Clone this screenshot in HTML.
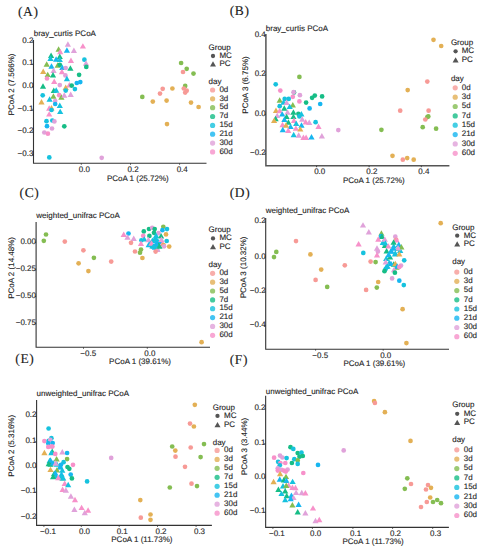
<!DOCTYPE html><html><head><meta charset="utf-8"><style>html,body{margin:0;padding:0;background:#fff;width:481px;height:550px;overflow:hidden}svg{display:block}text{font-family:"Liberation Sans",sans-serif;font-size:8px;fill:#1e1e1e;stroke:#1e1e1e;stroke-width:0.12px;text-rendering:geometricPrecision}.s{font-family:"Liberation Serif",serif;font-size:13.5px;fill:#222;letter-spacing:0.6px}</style></head><body>
<svg width="481" height="550" viewBox="0 0 481 550">
<rect width="481" height="550" fill="#fff"/>
<text class="s" x="18" y="15.6">(A)</text>
<text x="33.7" y="36">bray_curtis PCoA</text>
<polygon points="67.90,41.35 64.80,46.78 71.00,46.78" fill="#e0a2da"/>
<polygon points="82.90,43.15 79.80,48.58 86.00,48.58" fill="#f791ca"/>
<polygon points="58.60,46.35 55.50,51.78 61.70,51.78" fill="#84bd52"/>
<polygon points="60.20,48.85 57.10,54.28 63.30,54.28" fill="#f791ca"/>
<polygon points="66.90,47.35 63.80,52.78 70.00,52.78" fill="#16b6f0"/>
<polygon points="73.90,47.55 70.80,52.98 77.00,52.98" fill="#e0a2da"/>
<polygon points="51.10,52.55 48.00,57.98 54.20,57.98" fill="#16bd86"/>
<polygon points="50.50,55.45 47.40,60.88 53.60,60.88" fill="#16c2de"/>
<polygon points="59.80,53.55 56.70,58.98 62.90,58.98" fill="#16bd86"/>
<polygon points="56.10,56.25 53.00,61.68 59.20,61.68" fill="#16b6f0"/>
<polygon points="59.80,56.65 56.70,62.08 62.90,62.08" fill="#16c2de"/>
<polygon points="71.00,57.55 67.90,62.98 74.10,62.98" fill="#f791ca"/>
<circle cx="84.4" cy="59.7" r="2.35" fill="#16c2de"/>
<polygon points="86.00,60.35 82.90,65.78 89.10,65.78" fill="#e0a2da"/>
<circle cx="86.3" cy="66.9" r="2.35" fill="#16bd86"/>
<polygon points="46.70,61.25 43.60,66.68 49.80,66.68" fill="#84bd52"/>
<polygon points="51.50,63.25 48.40,68.68 54.60,68.68" fill="#16b6f0"/>
<polygon points="57.70,62.25 54.60,67.68 60.80,67.68" fill="#84bd52"/>
<circle cx="59.8" cy="64.8" r="2.35" fill="#16bd86"/>
<polygon points="62.30,64.55 59.20,69.98 65.40,69.98" fill="#16b6f0"/>
<circle cx="65.7" cy="68.0" r="2.35" fill="#e0a2da"/>
<polygon points="70.40,65.35 67.30,70.78 73.50,70.78" fill="#16bd86"/>
<polygon points="43.20,68.55 40.10,73.98 46.30,73.98" fill="#e3b055"/>
<polygon points="53.60,67.55 50.50,72.98 56.70,72.98" fill="#e0a2da"/>
<polygon points="61.90,68.75 58.80,74.18 65.00,74.18" fill="#f791ca"/>
<polygon points="47.70,71.65 44.60,77.08 50.80,77.08" fill="#84bd52"/>
<polygon points="53.00,72.05 49.90,77.48 56.10,77.48" fill="#16bd86"/>
<circle cx="47.0" cy="78.5" r="2.35" fill="#f791ca"/>
<circle cx="79.1" cy="74.8" r="2.35" fill="#16bd86"/>
<circle cx="65.4" cy="75.4" r="2.35" fill="#e0a2da"/>
<polygon points="66.90,75.75 63.80,81.18 70.00,81.18" fill="#16c2de"/>
<polygon points="54.20,78.45 51.10,83.88 57.30,83.88" fill="#f791ca"/>
<circle cx="80.3" cy="82.1" r="2.35" fill="#16b6f0"/>
<circle cx="76.8" cy="83.0" r="2.35" fill="#16b6f0"/>
<circle cx="59.8" cy="85.1" r="2.35" fill="#e0a2da"/>
<polygon points="69.40,81.95 66.30,87.38 72.50,87.38" fill="#f791ca"/>
<circle cx="71.7" cy="85.6" r="2.35" fill="#16bd86"/>
<polygon points="43.00,83.25 39.90,88.68 46.10,88.68" fill="#16bd86"/>
<circle cx="74.9" cy="89.1" r="2.35" fill="#16c2de"/>
<polygon points="53.80,87.55 50.70,92.98 56.90,92.98" fill="#16bd86"/>
<polygon points="56.20,87.25 53.10,92.68 59.30,92.68" fill="#16c2de"/>
<polygon points="65.70,84.45 62.60,89.88 68.80,89.88" fill="#e3b055"/>
<circle cx="65.7" cy="90.6" r="2.35" fill="#16c2de"/>
<circle cx="42.7" cy="95.3" r="2.35" fill="#16c2de"/>
<polygon points="70.70,91.55 67.60,96.98 73.80,96.98" fill="#e0a2da"/>
<polygon points="53.40,93.35 50.30,98.78 56.50,98.78" fill="#84bd52"/>
<circle cx="59.2" cy="95.2" r="2.35" fill="#f791ca"/>
<polygon points="61.40,94.35 58.30,99.78 64.50,99.78" fill="#84bd52"/>
<polygon points="64.30,92.35 61.20,97.78 67.40,97.78" fill="#e0a2da"/>
<polygon points="41.50,99.05 38.40,104.48 44.60,104.48" fill="#e3b055"/>
<polygon points="49.60,96.25 46.50,101.68 52.70,101.68" fill="#16c2de"/>
<circle cx="55.2" cy="101.0" r="2.35" fill="#e0a2da"/>
<circle cx="55.2" cy="104.0" r="2.35" fill="#16b6f0"/>
<polygon points="59.80,102.45 56.70,107.88 62.90,107.88" fill="#16c2de"/>
<polygon points="51.50,104.95 48.40,110.38 54.60,110.38" fill="#e3b055"/>
<polygon points="49.20,105.35 46.10,110.78 52.30,110.78" fill="#f791ca"/>
<circle cx="51.5" cy="110.0" r="2.35" fill="#16c2de"/>
<polygon points="60.20,108.65 57.10,114.08 63.30,114.08" fill="#16c2de"/>
<polygon points="49.20,111.15 46.10,116.58 52.30,116.58" fill="#f791ca"/>
<circle cx="46.5" cy="121.2" r="2.35" fill="#16c2de"/>
<circle cx="52.3" cy="120.5" r="2.35" fill="#16c2de"/>
<circle cx="54.4" cy="121.4" r="2.35" fill="#e0a2da"/>
<circle cx="47.0" cy="126.2" r="2.35" fill="#16b6f0"/>
<circle cx="64.3" cy="126.3" r="2.35" fill="#16bd86"/>
<circle cx="52.0" cy="128.5" r="2.35" fill="#e0a2da"/>
<circle cx="44.3" cy="132.5" r="2.35" fill="#e0a2da"/>
<circle cx="47.9" cy="133.7" r="2.35" fill="#f791ca"/>
<circle cx="49.3" cy="157.4" r="2.35" fill="#16c2de"/>
<circle cx="101.7" cy="157.8" r="2.35" fill="#e0a2da"/>
<circle cx="181.1" cy="63.0" r="2.35" fill="#84bd52"/>
<circle cx="186.7" cy="68.8" r="2.35" fill="#84bd52"/>
<circle cx="183.0" cy="72.0" r="2.35" fill="#f79a96"/>
<circle cx="193.5" cy="73.6" r="2.35" fill="#84bd52"/>
<circle cx="185.2" cy="85.9" r="2.35" fill="#84bd52"/>
<circle cx="183.8" cy="88.5" r="2.35" fill="#f79a96"/>
<circle cx="186.7" cy="90.7" r="2.35" fill="#f79a96"/>
<circle cx="185.2" cy="92.6" r="2.35" fill="#f79a96"/>
<circle cx="162.7" cy="88.8" r="2.35" fill="#f79a96"/>
<circle cx="172.4" cy="88.5" r="2.35" fill="#e3b055"/>
<circle cx="160.0" cy="93.6" r="2.35" fill="#f79a96"/>
<circle cx="142.3" cy="96.9" r="2.35" fill="#84bd52"/>
<circle cx="152.8" cy="101.6" r="2.35" fill="#e3b055"/>
<circle cx="166.6" cy="100.6" r="2.35" fill="#e3b055"/>
<circle cx="191.0" cy="102.6" r="2.35" fill="#e3b055"/>
<circle cx="198.6" cy="107.0" r="2.35" fill="#e3b055"/>
<circle cx="167.0" cy="124.1" r="2.35" fill="#e3b055"/>
<path d="M33.5 40V163.3H206.5" fill="none" stroke="#333333" stroke-width="1.1"/>
<path d="M32.2 41.3H33.5" stroke="#333333" stroke-width="0.8"/>
<text x="33.4" y="42.6" text-anchor="end">0.2</text>
<path d="M32.2 64.1H33.5" stroke="#333333" stroke-width="0.8"/>
<text x="33.4" y="65.4" text-anchor="end">0.1</text>
<path d="M32.2 86.8H33.5" stroke="#333333" stroke-width="0.8"/>
<text x="33.4" y="88.1" text-anchor="end">0.0</text>
<path d="M32.2 109.3H33.5" stroke="#333333" stroke-width="0.8"/>
<text x="33.4" y="110.6" text-anchor="end">&#8722;0.1</text>
<path d="M32.2 131.8H33.5" stroke="#333333" stroke-width="0.8"/>
<text x="33.4" y="133.1" text-anchor="end">&#8722;0.2</text>
<path d="M32.2 154.3H33.5" stroke="#333333" stroke-width="0.8"/>
<text x="33.4" y="155.6" text-anchor="end">&#8722;0.3</text>
<path d="M81.3 163.3V164.70000000000002" stroke="#333333" stroke-width="0.9"/>
<text x="84.4" y="171.7" text-anchor="middle">0.0</text>
<path d="M130.5 163.3V164.70000000000002" stroke="#333333" stroke-width="0.9"/>
<text x="133.1" y="171.7" text-anchor="middle">0.2</text>
<path d="M179.6 163.3V164.70000000000002" stroke="#333333" stroke-width="0.9"/>
<text x="182.2" y="171.7" text-anchor="middle">0.4</text>
<text x="137.8" y="180.8" text-anchor="middle">PCoA 1 (25.72%)</text>
<text transform="translate(13.8 84.5) rotate(-90)" text-anchor="middle">PCoA 2 (7.566%)</text>
<text x="208.5" y="49.9">Group</text>
<circle cx="213.0" cy="56.0" r="2.15" fill="#555"/>
<text x="219.4" y="57.8">MC</text>
<polygon points="213.00,61.16 210.00,66.41 216.00,66.41" fill="#555"/>
<text x="219.4" y="65.9">PC</text>
<text x="208.5" y="83.5">day</text>
<circle cx="212.6" cy="90.0" r="2.6" fill="#f8aeab"/>
<text x="219.4" y="91.7">0d</text>
<circle cx="212.6" cy="98.8" r="2.6" fill="#e8bf77"/>
<text x="219.4" y="100.5">3d</text>
<circle cx="212.6" cy="107.7" r="2.6" fill="#9cca74"/>
<text x="219.4" y="109.4">5d</text>
<circle cx="212.6" cy="116.5" r="2.6" fill="#44ca9e"/>
<text x="219.4" y="118.2">7d</text>
<circle cx="212.6" cy="125.4" r="2.6" fill="#44cee4"/>
<text x="219.4" y="127.1">15d</text>
<circle cx="212.6" cy="134.2" r="2.6" fill="#44c4f3"/>
<text x="219.4" y="135.9">21d</text>
<circle cx="212.6" cy="143.1" r="2.6" fill="#e6b4e1"/>
<text x="219.4" y="144.8">30d</text>
<circle cx="212.6" cy="151.9" r="2.6" fill="#f8a7d4"/>
<text x="219.4" y="153.6">60d</text>
<text class="s" x="229.7" y="15.1">(B)</text>
<text x="265.8" y="31">bray_curtis PCoA</text>
<circle cx="299.4" cy="76.9" r="2.35" fill="#84bd52"/>
<circle cx="275.7" cy="84.3" r="2.35" fill="#16c2de"/>
<circle cx="280.3" cy="90.6" r="2.35" fill="#f791ca"/>
<circle cx="294.0" cy="92.4" r="2.35" fill="#16bd86"/>
<circle cx="293.6" cy="92.2" r="2.35" fill="#e0a2da"/>
<circle cx="299.9" cy="95.2" r="2.35" fill="#e0a2da"/>
<circle cx="292.8" cy="96.8" r="2.35" fill="#f791ca"/>
<circle cx="314.8" cy="95.6" r="2.35" fill="#16bd86"/>
<circle cx="312.1" cy="97.8" r="2.35" fill="#16bd86"/>
<circle cx="322.1" cy="96.4" r="2.35" fill="#16bd86"/>
<circle cx="299.4" cy="101.4" r="2.35" fill="#f791ca"/>
<circle cx="306.1" cy="102.6" r="2.35" fill="#16bd86"/>
<circle cx="320.2" cy="104.0" r="2.35" fill="#16b6f0"/>
<circle cx="309.6" cy="108.4" r="2.35" fill="#16b6f0"/>
<circle cx="284.7" cy="98.9" r="2.35" fill="#16c2de"/>
<circle cx="288.7" cy="98.9" r="2.35" fill="#16c2de"/>
<polygon points="279.70,97.35 276.60,102.78 282.80,102.78" fill="#84bd52"/>
<polygon points="283.50,99.25 280.40,104.68 286.60,104.68" fill="#16c2de"/>
<polygon points="286.60,99.55 283.50,104.98 289.70,104.98" fill="#e0a2da"/>
<circle cx="279.7" cy="106.2" r="2.35" fill="#16c2de"/>
<polygon points="292.80,102.05 289.70,107.48 295.90,107.48" fill="#84bd52"/>
<polygon points="289.70,103.65 286.60,109.08 292.80,109.08" fill="#16c2de"/>
<polygon points="284.30,105.25 281.20,110.68 287.40,110.68" fill="#16bd86"/>
<polygon points="276.00,107.45 272.90,112.88 279.10,112.88" fill="#e3b055"/>
<polygon points="279.70,107.85 276.60,113.28 282.80,113.28" fill="#f791ca"/>
<polygon points="287.50,109.35 284.40,114.78 290.60,114.78" fill="#e0a2da"/>
<polygon points="293.40,109.35 290.30,114.78 296.50,114.78" fill="#16bd86"/>
<circle cx="298.4" cy="113.8" r="2.35" fill="#16bd86"/>
<polygon points="301.40,111.05 298.30,116.48 304.50,116.48" fill="#16c2de"/>
<polygon points="277.20,112.65 274.10,118.08 280.30,118.08" fill="#e0a2da"/>
<polygon points="282.20,111.15 279.10,116.58 285.30,116.58" fill="#16b6f0"/>
<polygon points="286.60,113.65 283.50,119.08 289.70,119.08" fill="#16bd86"/>
<polygon points="293.40,113.65 290.30,119.08 296.50,119.08" fill="#16bd86"/>
<circle cx="299.4" cy="116.4" r="2.35" fill="#16c2de"/>
<polygon points="275.60,115.85 272.50,121.28 278.70,121.28" fill="#16bd86"/>
<polygon points="274.10,117.65 271.00,123.08 277.20,123.08" fill="#e3b055"/>
<polygon points="284.40,116.45 281.30,121.88 287.50,121.88" fill="#16b6f0"/>
<polygon points="302.20,116.35 299.10,121.78 305.30,121.78" fill="#e0a2da"/>
<polygon points="309.20,119.55 306.10,124.98 312.30,124.98" fill="#e0a2da"/>
<polygon points="305.70,119.05 302.60,124.48 308.80,124.48" fill="#f791ca"/>
<circle cx="315.6" cy="122.2" r="2.35" fill="#16c2de"/>
<polygon points="288.40,119.35 285.30,124.78 291.50,124.78" fill="#16bd86"/>
<polygon points="294.00,117.45 290.90,122.88 297.10,122.88" fill="#f791ca"/>
<polygon points="296.20,120.55 293.10,125.98 299.30,125.98" fill="#16c2de"/>
<polygon points="301.50,122.25 298.40,127.68 304.60,127.68" fill="#16b6f0"/>
<polygon points="318.50,123.45 315.40,128.88 321.60,128.88" fill="#f791ca"/>
<polygon points="290.60,123.65 287.50,129.08 293.70,129.08" fill="#16b6f0"/>
<polygon points="282.50,121.85 279.40,127.28 285.60,127.28" fill="#f791ca"/>
<polygon points="286.00,122.25 282.90,127.68 289.10,127.68" fill="#e3b055"/>
<polygon points="295.90,125.35 292.80,130.78 299.00,130.78" fill="#f791ca"/>
<polygon points="300.30,126.15 297.20,131.58 303.40,131.58" fill="#e3b055"/>
<polygon points="282.80,126.85 279.70,132.28 285.90,132.28" fill="#16b6f0"/>
<polygon points="288.20,127.45 285.10,132.88 291.30,132.88" fill="#f791ca"/>
<polygon points="293.70,131.75 290.60,137.18 296.80,137.18" fill="#16c2de"/>
<polygon points="298.70,132.35 295.60,137.78 301.80,137.78" fill="#e0a2da"/>
<polygon points="303.40,134.55 300.30,139.98 306.50,139.98" fill="#f791ca"/>
<polygon points="306.10,134.55 303.00,139.98 309.20,139.98" fill="#f791ca"/>
<polygon points="311.50,134.05 308.40,139.48 314.60,139.48" fill="#16b6f0"/>
<polygon points="321.90,133.05 318.80,138.48 325.00,138.48" fill="#e0a2da"/>
<circle cx="338.3" cy="130.1" r="2.35" fill="#e0a2da"/>
<circle cx="433.5" cy="39.8" r="2.35" fill="#e3b055"/>
<circle cx="441.2" cy="46.0" r="2.35" fill="#e3b055"/>
<circle cx="427.3" cy="81.6" r="2.35" fill="#f79a96"/>
<circle cx="407.7" cy="90.1" r="2.35" fill="#e3b055"/>
<circle cx="400.2" cy="110.7" r="2.35" fill="#f79a96"/>
<circle cx="428.6" cy="110.7" r="2.35" fill="#f79a96"/>
<circle cx="428.3" cy="116.4" r="2.35" fill="#84bd52"/>
<circle cx="427.3" cy="117.1" r="2.35" fill="#84bd52"/>
<circle cx="425.3" cy="119.5" r="2.35" fill="#f79a96"/>
<circle cx="422.7" cy="127.2" r="2.35" fill="#84bd52"/>
<circle cx="436.1" cy="128.7" r="2.35" fill="#84bd52"/>
<circle cx="381.4" cy="129.8" r="2.35" fill="#84bd52"/>
<circle cx="392.5" cy="155.8" r="2.35" fill="#e3b055"/>
<circle cx="402.8" cy="159.7" r="2.35" fill="#f79a96"/>
<circle cx="407.2" cy="158.1" r="2.35" fill="#e3b055"/>
<circle cx="413.7" cy="159.7" r="2.35" fill="#e3b055"/>
<path d="M265.9 34V165.8H449.4" fill="none" stroke="#555" stroke-width="1.5"/>
<path d="M264.59999999999997 35.2H265.9" stroke="#333333" stroke-width="0.8"/>
<text x="265.8" y="36.5" text-anchor="end">0.4</text>
<path d="M264.59999999999997 74.7H265.9" stroke="#333333" stroke-width="0.8"/>
<text x="265.8" y="76.0" text-anchor="end">0.2</text>
<path d="M264.59999999999997 114.4H265.9" stroke="#333333" stroke-width="0.8"/>
<text x="265.8" y="115.7" text-anchor="end">0.0</text>
<path d="M264.59999999999997 153.6H265.9" stroke="#333333" stroke-width="0.8"/>
<text x="265.8" y="154.9" text-anchor="end">&#8722;0.2</text>
<path d="M316.6 165.8V167.20000000000002" stroke="#333333" stroke-width="0.9"/>
<text x="319.7" y="174.2" text-anchor="middle">0.0</text>
<path d="M369.1 165.8V167.20000000000002" stroke="#333333" stroke-width="0.9"/>
<text x="371.8" y="174.2" text-anchor="middle">0.2</text>
<path d="M421.3 165.8V167.20000000000002" stroke="#333333" stroke-width="0.9"/>
<text x="423.8" y="174.2" text-anchor="middle">0.4</text>
<text x="373.8" y="182.5" text-anchor="middle">PCoA 1 (25.72%)</text>
<text transform="translate(247.8 85) rotate(-90)" text-anchor="middle">PCoA 3 (6.75%)</text>
<text x="450.9" y="44.7">Group</text>
<circle cx="455.59999999999997" cy="51.3" r="2.15" fill="#555"/>
<text x="461.7" y="53.1">MC</text>
<polygon points="455.60,57.35 452.60,62.60 458.60,62.60" fill="#555"/>
<text x="461.7" y="62.1">PC</text>
<text x="450.9" y="80.5">day</text>
<circle cx="455.2" cy="87.8" r="2.6" fill="#f8aeab"/>
<text x="461.7" y="89.5">0d</text>
<circle cx="455.2" cy="97.2" r="2.6" fill="#e8bf77"/>
<text x="461.7" y="98.8">3d</text>
<circle cx="455.2" cy="106.5" r="2.6" fill="#9cca74"/>
<text x="461.7" y="108.2">5d</text>
<circle cx="455.2" cy="115.9" r="2.6" fill="#44ca9e"/>
<text x="461.7" y="117.5">7d</text>
<circle cx="455.2" cy="125.2" r="2.6" fill="#44cee4"/>
<text x="461.7" y="126.9">15d</text>
<circle cx="455.2" cy="134.6" r="2.6" fill="#44c4f3"/>
<text x="461.7" y="136.2">21d</text>
<circle cx="455.2" cy="143.9" r="2.6" fill="#e6b4e1"/>
<text x="461.7" y="145.6">30d</text>
<circle cx="455.2" cy="153.3" r="2.6" fill="#f8a7d4"/>
<text x="461.7" y="155.0">60d</text>
<text class="s" x="19.6" y="197.1">(C)</text>
<text x="36.3" y="217.5">weighted_unifrac PCoA</text>
<circle cx="46.0" cy="234.5" r="2.35" fill="#84bd52"/>
<circle cx="43.8" cy="240.8" r="2.35" fill="#84bd52"/>
<circle cx="64.8" cy="241.6" r="2.35" fill="#f79a96"/>
<circle cx="83.4" cy="250.3" r="2.35" fill="#f79a96"/>
<circle cx="93.9" cy="257.8" r="2.35" fill="#84bd52"/>
<circle cx="78.6" cy="263.3" r="2.35" fill="#e3b055"/>
<circle cx="88.4" cy="271.1" r="2.35" fill="#e3b055"/>
<circle cx="111.2" cy="261.6" r="2.35" fill="#f79a96"/>
<circle cx="201.6" cy="342.2" r="2.35" fill="#e3b055"/>
<polygon points="154.90,235.55 151.80,240.98 158.00,240.98" fill="#16c2de"/>
<polygon points="158.00,238.65 154.90,244.08 161.10,244.08" fill="#16b6f0"/>
<polygon points="160.50,238.65 157.40,244.08 163.60,244.08" fill="#16b6f0"/>
<polygon points="148.70,241.75 145.60,247.18 151.80,247.18" fill="#16b6f0"/>
<polygon points="152.40,243.05 149.30,248.48 155.50,248.48" fill="#16c2de"/>
<polygon points="154.90,244.25 151.80,249.68 158.00,249.68" fill="#16b6f0"/>
<polygon points="158.60,242.45 155.50,247.88 161.70,247.88" fill="#16bd86"/>
<polygon points="123.70,231.55 120.60,236.98 126.80,236.98" fill="#f791ca"/>
<circle cx="128.5" cy="233.5" r="2.35" fill="#16b6f0"/>
<polygon points="127.50,234.35 124.40,239.78 130.60,239.78" fill="#e0a2da"/>
<polygon points="133.70,235.55 130.60,240.98 136.80,240.98" fill="#e0a2da"/>
<circle cx="131.0" cy="242.8" r="2.35" fill="#f79a96"/>
<circle cx="135.0" cy="251.5" r="2.35" fill="#f79a96"/>
<circle cx="141.0" cy="249.6" r="2.35" fill="#84bd52"/>
<circle cx="140.0" cy="252.7" r="2.35" fill="#84bd52"/>
<circle cx="142.4" cy="258.0" r="2.35" fill="#e3b055"/>
<circle cx="143.8" cy="231.4" r="2.35" fill="#16bd86"/>
<circle cx="149.0" cy="229.0" r="2.35" fill="#16bd86"/>
<circle cx="152.2" cy="227.8" r="2.35" fill="#e0a2da"/>
<circle cx="154.7" cy="229.1" r="2.35" fill="#16bd86"/>
<circle cx="163.3" cy="226.8" r="2.35" fill="#84bd52"/>
<circle cx="162.4" cy="230.2" r="2.35" fill="#16b6f0"/>
<circle cx="167.0" cy="229.1" r="2.35" fill="#16c2de"/>
<circle cx="154.0" cy="232.8" r="2.35" fill="#16bd86"/>
<circle cx="158.6" cy="233.1" r="2.35" fill="#e0a2da"/>
<circle cx="166.0" cy="234.4" r="2.35" fill="#e3b055"/>
<circle cx="143.2" cy="235.8" r="2.35" fill="#f791ca"/>
<circle cx="149.4" cy="235.9" r="2.35" fill="#16bd86"/>
<polygon points="156.10,232.45 153.00,237.88 159.20,237.88" fill="#16c2de"/>
<polygon points="161.10,233.05 158.00,238.48 164.20,238.48" fill="#16bd86"/>
<circle cx="141.4" cy="240.3" r="2.35" fill="#16c2de"/>
<polygon points="144.30,236.15 141.20,241.58 147.40,241.58" fill="#16c2de"/>
<polygon points="148.40,236.85 145.30,242.28 151.50,242.28" fill="#e0a2da"/>
<polygon points="152.40,237.45 149.30,242.88 155.50,242.88" fill="#16c2de"/>
<polygon points="156.80,236.85 153.70,242.28 159.90,242.28" fill="#16c2de"/>
<polygon points="161.40,236.55 158.30,241.98 164.50,241.98" fill="#e0a2da"/>
<circle cx="166.7" cy="241.0" r="2.35" fill="#16c2de"/>
<polygon points="141.00,240.45 137.90,245.88 144.10,245.88" fill="#f791ca"/>
<polygon points="149.90,241.15 146.80,246.58 153.00,246.58" fill="#16c2de"/>
<polygon points="151.50,240.25 148.40,245.68 154.60,245.68" fill="#f791ca"/>
<polygon points="156.10,240.55 153.00,245.98 159.20,245.98" fill="#16b6f0"/>
<polygon points="162.60,240.55 159.50,245.98 165.70,245.98" fill="#f791ca"/>
<circle cx="163.6" cy="245.0" r="2.35" fill="#e3b055"/>
<circle cx="164.1" cy="246.3" r="2.35" fill="#e0a2da"/>
<circle cx="169.2" cy="246.6" r="2.35" fill="#e3b055"/>
<polygon points="156.80,245.05 153.70,250.48 159.90,250.48" fill="#16c2de"/>
<polygon points="157.40,246.65 154.30,252.08 160.50,252.08" fill="#e0a2da"/>
<circle cx="155.6" cy="251.6" r="2.35" fill="#f79a96"/>
<polygon points="153.50,243.35 150.40,248.78 156.60,248.78" fill="#16c2de"/>
<polygon points="159.50,243.35 156.40,248.78 162.60,248.78" fill="#16bd86"/>
<path d="M36.1 222V347.3H210" fill="none" stroke="#333333" stroke-width="1.1"/>
<path d="M34.800000000000004 242.3H36.1" stroke="#333333" stroke-width="0.8"/>
<text x="36.0" y="243.6" text-anchor="end">0.00</text>
<path d="M34.800000000000004 269.9H36.1" stroke="#333333" stroke-width="0.8"/>
<text x="36.0" y="271.2" text-anchor="end">&#8722;0.25</text>
<path d="M34.800000000000004 296.5H36.1" stroke="#333333" stroke-width="0.8"/>
<text x="36.0" y="297.8" text-anchor="end">&#8722;0.50</text>
<path d="M34.800000000000004 323.7H36.1" stroke="#333333" stroke-width="0.8"/>
<text x="36.0" y="325.0" text-anchor="end">&#8722;0.75</text>
<path d="M83.5 347.3V348.7" stroke="#333333" stroke-width="0.9"/>
<text x="88.2" y="355.7" text-anchor="middle">&#8722;0.5</text>
<path d="M147.3 347.3V348.7" stroke="#333333" stroke-width="0.9"/>
<text x="149.8" y="355.7" text-anchor="middle">0.0</text>
<text x="140" y="363.6" text-anchor="middle">PCoA 1 (39.61%)</text>
<text transform="translate(13.8 267.9) rotate(-90)" text-anchor="middle">PCoA 2 (14.48%)</text>
<text x="208.5" y="231.9">Group</text>
<circle cx="213.0" cy="238.4" r="2.15" fill="#555"/>
<text x="219.4" y="240.2">MC</text>
<polygon points="213.00,244.06 210.00,249.31 216.00,249.31" fill="#555"/>
<text x="219.4" y="248.8">PC</text>
<text x="208.5" y="266.5">day</text>
<circle cx="212.6" cy="273.3" r="2.6" fill="#f8aeab"/>
<text x="219.4" y="275.1">0d</text>
<circle cx="212.6" cy="282.2" r="2.6" fill="#e8bf77"/>
<text x="219.4" y="283.9">3d</text>
<circle cx="212.6" cy="291.0" r="2.6" fill="#9cca74"/>
<text x="219.4" y="292.8">5d</text>
<circle cx="212.6" cy="299.9" r="2.6" fill="#44ca9e"/>
<text x="219.4" y="301.6">7d</text>
<circle cx="212.6" cy="308.7" r="2.6" fill="#44cee4"/>
<text x="219.4" y="310.4">15d</text>
<circle cx="212.6" cy="317.6" r="2.6" fill="#44c4f3"/>
<text x="219.4" y="319.3">21d</text>
<circle cx="212.6" cy="326.4" r="2.6" fill="#e6b4e1"/>
<text x="219.4" y="328.1">30d</text>
<circle cx="212.6" cy="335.3" r="2.6" fill="#f8a7d4"/>
<text x="219.4" y="337.0">60d</text>
<text class="s" x="229.7" y="197.1">(D)</text>
<text x="265.8" y="213.3">weighted_unifrac PCoA</text>
<polygon points="382.80,239.55 379.70,244.98 385.90,244.98" fill="#16c2de"/>
<polygon points="384.90,242.45 381.80,247.88 388.00,247.88" fill="#16bd86"/>
<polygon points="393.70,243.15 390.60,248.58 396.80,248.58" fill="#16c2de"/>
<polygon points="398.00,245.35 394.90,250.78 401.10,250.78" fill="#16bd86"/>
<polygon points="400.20,247.55 397.10,252.98 403.30,252.98" fill="#16c2de"/>
<polygon points="390.80,248.25 387.70,253.68 393.90,253.68" fill="#16b6f0"/>
<polygon points="395.10,251.15 392.00,256.58 398.20,256.58" fill="#16c2de"/>
<polygon points="389.30,259.85 386.20,265.28 392.40,265.28" fill="#16c2de"/>
<polygon points="393.70,261.35 390.60,266.78 396.80,266.78" fill="#16bd86"/>
<polygon points="386.40,263.55 383.30,268.98 389.50,268.98" fill="#16b6f0"/>
<polygon points="396.60,264.25 393.50,269.68 399.70,269.68" fill="#84bd52"/>
<circle cx="296.0" cy="241.1" r="2.35" fill="#f79a96"/>
<circle cx="276.3" cy="251.9" r="2.35" fill="#84bd52"/>
<circle cx="274.0" cy="257.1" r="2.35" fill="#84bd52"/>
<circle cx="310.4" cy="254.4" r="2.35" fill="#e3b055"/>
<circle cx="321.2" cy="269.6" r="2.35" fill="#e3b055"/>
<circle cx="315.6" cy="279.9" r="2.35" fill="#f79a96"/>
<circle cx="327.2" cy="286.9" r="2.35" fill="#84bd52"/>
<circle cx="344.8" cy="265.3" r="2.35" fill="#f79a96"/>
<circle cx="440.7" cy="223.2" r="2.35" fill="#e3b055"/>
<circle cx="402.6" cy="309.2" r="2.35" fill="#e3b055"/>
<circle cx="406.4" cy="343.1" r="2.35" fill="#e3b055"/>
<circle cx="399.3" cy="280.7" r="2.35" fill="#16b6f0"/>
<circle cx="403.8" cy="285.1" r="2.35" fill="#16c2de"/>
<circle cx="392.1" cy="278.4" r="2.35" fill="#e0a2da"/>
<circle cx="378.2" cy="282.0" r="2.35" fill="#e3b055"/>
<circle cx="376.8" cy="287.6" r="2.35" fill="#84bd52"/>
<circle cx="366.1" cy="289.9" r="2.35" fill="#f79a96"/>
<polygon points="363.00,222.15 359.90,227.58 366.10,227.58" fill="#e0a2da"/>
<polygon points="368.80,228.95 365.70,234.38 371.90,234.38" fill="#e0a2da"/>
<polygon points="358.60,240.95 355.50,246.38 361.70,246.38" fill="#f791ca"/>
<circle cx="363.3" cy="252.9" r="2.35" fill="#16c2de"/>
<circle cx="370.6" cy="261.6" r="2.35" fill="#f79a96"/>
<circle cx="375.6" cy="262.1" r="2.35" fill="#84bd52"/>
<polygon points="381.40,230.25 378.30,235.68 384.50,235.68" fill="#84bd52"/>
<circle cx="381.2" cy="236.2" r="2.35" fill="#16b6f0"/>
<polygon points="382.00,233.45 378.90,238.88 385.10,238.88" fill="#16bd86"/>
<polygon points="378.30,236.25 375.20,241.68 381.40,241.68" fill="#f791ca"/>
<polygon points="384.80,236.25 381.70,241.68 387.90,241.68" fill="#e0a2da"/>
<circle cx="395.3" cy="236.7" r="2.35" fill="#e0a2da"/>
<circle cx="396.2" cy="239.8" r="2.35" fill="#f79a96"/>
<polygon points="396.60,237.15 393.50,242.58 399.70,242.58" fill="#f791ca"/>
<polygon points="385.30,240.15 382.20,245.58 388.40,245.58" fill="#16c2de"/>
<polygon points="393.60,239.25 390.50,244.68 396.70,244.68" fill="#16bd86"/>
<polygon points="398.80,241.45 395.70,246.88 401.90,246.88" fill="#16b6f0"/>
<polygon points="388.30,243.15 385.20,248.58 391.40,248.58" fill="#f791ca"/>
<polygon points="401.40,244.05 398.30,249.48 404.50,249.48" fill="#84bd52"/>
<polygon points="398.00,244.95 394.90,250.38 401.10,250.38" fill="#e0a2da"/>
<polygon points="377.00,245.35 373.90,250.78 380.10,250.78" fill="#e0a2da"/>
<circle cx="377.9" cy="251.6" r="2.35" fill="#e0a2da"/>
<polygon points="386.60,247.95 383.50,253.38 389.70,253.38" fill="#16bd86"/>
<polygon points="391.40,247.95 388.30,253.38 394.50,253.38" fill="#16b6f0"/>
<polygon points="393.50,245.35 390.40,250.78 396.60,250.78" fill="#16b6f0"/>
<polygon points="395.30,250.15 392.20,255.58 398.40,255.58" fill="#16c2de"/>
<polygon points="399.30,251.05 396.20,256.48 402.40,256.48" fill="#e3b055"/>
<polygon points="377.00,251.95 373.90,257.38 380.10,257.38" fill="#f791ca"/>
<polygon points="386.20,255.45 383.10,260.88 389.30,260.88" fill="#16c2de"/>
<polygon points="390.10,254.15 387.00,259.58 393.20,259.58" fill="#16bd86"/>
<polygon points="388.50,251.85 385.40,257.28 391.60,257.28" fill="#16b6f0"/>
<circle cx="404.2" cy="260.3" r="2.35" fill="#16c2de"/>
<polygon points="385.70,258.95 382.60,264.38 388.80,264.38" fill="#e0a2da"/>
<polygon points="391.00,260.65 387.90,266.08 394.10,266.08" fill="#16b6f0"/>
<polygon points="395.30,260.65 392.20,266.08 398.40,266.08" fill="#e3b055"/>
<circle cx="401.0" cy="265.6" r="2.35" fill="#e0a2da"/>
<polygon points="387.50,263.25 384.40,268.68 390.60,268.68" fill="#16c2de"/>
<polygon points="397.10,263.25 394.00,268.68 400.20,268.68" fill="#16b6f0"/>
<circle cx="399.3" cy="266.9" r="2.35" fill="#f791ca"/>
<polygon points="394.00,266.75 390.90,272.18 397.10,272.18" fill="#e0a2da"/>
<circle cx="385.7" cy="269.0" r="2.35" fill="#16c2de"/>
<circle cx="384.5" cy="271.2" r="2.35" fill="#16bd86"/>
<circle cx="394.9" cy="272.7" r="2.35" fill="#16bd86"/>
<path d="M265.7 218V349.2H449" fill="none" stroke="#333333" stroke-width="1.1"/>
<path d="M264.4 221.5H265.7" stroke="#333333" stroke-width="0.8"/>
<text x="265.6" y="222.8" text-anchor="end">0.2</text>
<path d="M264.4 257.2H265.7" stroke="#333333" stroke-width="0.8"/>
<text x="265.6" y="258.5" text-anchor="end">0.0</text>
<path d="M264.4 291.5H265.7" stroke="#333333" stroke-width="0.8"/>
<text x="265.6" y="292.8" text-anchor="end">&#8722;0.2</text>
<path d="M264.4 326.0H265.7" stroke="#333333" stroke-width="0.8"/>
<text x="265.6" y="327.3" text-anchor="end">&#8722;0.4</text>
<path d="M315.6 349.2V350.59999999999997" stroke="#333333" stroke-width="0.9"/>
<text x="320.2" y="357.6" text-anchor="middle">&#8722;0.5</text>
<path d="M383.2 349.2V350.59999999999997" stroke="#333333" stroke-width="0.9"/>
<text x="385.7" y="357.6" text-anchor="middle">0.0</text>
<text x="374.3" y="365.6" text-anchor="middle">PCoA 1 (39.61%)</text>
<text transform="translate(246.3 267.4) rotate(-90)" text-anchor="middle">PCoA 3 (10.32%)</text>
<text x="452.2" y="229.7">Group</text>
<circle cx="457.2" cy="235.7" r="2.15" fill="#555"/>
<text x="463.7" y="237.5">MC</text>
<polygon points="457.20,241.26 454.20,246.51 460.20,246.51" fill="#555"/>
<text x="463.7" y="246.0">PC</text>
<text x="452.2" y="264.3">day</text>
<circle cx="456.8" cy="272.1" r="2.6" fill="#f8aeab"/>
<text x="463.7" y="273.8">0d</text>
<circle cx="456.8" cy="281.3" r="2.6" fill="#e8bf77"/>
<text x="463.7" y="283.0">3d</text>
<circle cx="456.8" cy="290.6" r="2.6" fill="#9cca74"/>
<text x="463.7" y="292.3">5d</text>
<circle cx="456.8" cy="299.8" r="2.6" fill="#44ca9e"/>
<text x="463.7" y="301.5">7d</text>
<circle cx="456.8" cy="309.0" r="2.6" fill="#44cee4"/>
<text x="463.7" y="310.7">15d</text>
<circle cx="456.8" cy="318.2" r="2.6" fill="#44c4f3"/>
<text x="463.7" y="320.0">21d</text>
<circle cx="456.8" cy="327.5" r="2.6" fill="#e6b4e1"/>
<text x="463.7" y="329.2">30d</text>
<circle cx="456.8" cy="336.7" r="2.6" fill="#f8a7d4"/>
<text x="463.7" y="338.4">60d</text>
<text class="s" x="15.3" y="363.1">(E)</text>
<text x="36.6" y="395.8">unweighted_unifrac PCoA</text>
<circle cx="48.6" cy="428.5" r="2.35" fill="#16c2de"/>
<circle cx="51.4" cy="438.2" r="2.35" fill="#16c2de"/>
<circle cx="44.4" cy="441.1" r="2.35" fill="#f791ca"/>
<circle cx="48.7" cy="440.8" r="2.35" fill="#16c2de"/>
<circle cx="50.3" cy="439.9" r="2.35" fill="#e0a2da"/>
<circle cx="52.7" cy="443.0" r="2.35" fill="#16b6f0"/>
<circle cx="48.3" cy="443.4" r="2.35" fill="#16b6f0"/>
<circle cx="48.3" cy="446.9" r="2.35" fill="#f791ca"/>
<circle cx="51.4" cy="446.5" r="2.35" fill="#f791ca"/>
<polygon points="44.40,449.85 41.30,455.28 47.50,455.28" fill="#e3b055"/>
<polygon points="49.60,457.75 46.50,463.18 52.70,463.18" fill="#16c2de"/>
<polygon points="50.50,461.35 47.40,466.78 53.60,466.78" fill="#16bd86"/>
<polygon points="56.90,461.35 53.80,466.78 60.00,466.78" fill="#16c2de"/>
<polygon points="60.50,464.15 57.40,469.58 63.60,469.58" fill="#16b6f0"/>
<polygon points="54.20,470.45 51.10,475.88 57.30,475.88" fill="#16bd86"/>
<polygon points="56.00,473.25 52.90,478.68 59.10,478.68" fill="#16c2de"/>
<polygon points="61.50,471.35 58.40,476.78 64.60,476.78" fill="#16b6f0"/>
<polygon points="62.40,475.05 59.30,480.48 65.50,480.48" fill="#16bd86"/>
<circle cx="52.4" cy="446.6" r="2.35" fill="#f791ca"/>
<polygon points="52.20,448.55 49.10,453.98 55.30,453.98" fill="#16bd86"/>
<polygon points="51.40,449.85 48.30,455.28 54.50,455.28" fill="#16c2de"/>
<circle cx="55.3" cy="453.9" r="2.35" fill="#f791ca"/>
<polygon points="62.30,449.05 59.20,454.48 65.40,454.48" fill="#e0a2da"/>
<circle cx="67.1" cy="453.0" r="2.35" fill="#16b6f0"/>
<polygon points="56.60,455.95 53.50,461.38 59.70,461.38" fill="#84bd52"/>
<circle cx="67.1" cy="459.1" r="2.35" fill="#84bd52"/>
<polygon points="50.50,457.35 47.40,462.78 53.60,462.78" fill="#16b6f0"/>
<polygon points="48.70,460.85 45.60,466.28 51.80,466.28" fill="#16bd86"/>
<polygon points="53.10,459.95 50.00,465.38 56.20,465.38" fill="#16b6f0"/>
<polygon points="55.70,460.35 52.60,465.78 58.80,465.78" fill="#e0a2da"/>
<circle cx="63.6" cy="462.2" r="2.35" fill="#16c2de"/>
<circle cx="61.0" cy="464.8" r="2.35" fill="#16b6f0"/>
<circle cx="73.0" cy="464.8" r="2.35" fill="#f791ca"/>
<circle cx="67.5" cy="467.0" r="2.35" fill="#16bd86"/>
<circle cx="69.3" cy="468.8" r="2.35" fill="#16bd86"/>
<polygon points="60.10,463.85 57.00,469.28 63.20,469.28" fill="#16b6f0"/>
<polygon points="50.50,466.65 47.40,472.08 53.60,472.08" fill="#e3b055"/>
<polygon points="57.00,466.95 53.90,472.38 60.10,472.38" fill="#84bd52"/>
<polygon points="62.30,467.35 59.20,472.78 65.40,472.78" fill="#16c2de"/>
<polygon points="55.30,469.95 52.20,475.38 58.40,475.38" fill="#16b6f0"/>
<polygon points="53.10,473.85 50.00,479.28 56.20,479.28" fill="#16bd86"/>
<polygon points="61.40,473.05 58.30,478.48 64.50,478.48" fill="#16c2de"/>
<polygon points="58.30,474.75 55.20,480.18 61.40,480.18" fill="#f791ca"/>
<polygon points="63.20,474.95 60.10,480.38 66.30,480.38" fill="#16c2de"/>
<circle cx="70.7" cy="474.6" r="2.35" fill="#16b6f0"/>
<circle cx="71.9" cy="478.4" r="2.35" fill="#16bd86"/>
<circle cx="87.1" cy="481.4" r="2.35" fill="#16c2de"/>
<polygon points="64.70,480.55 61.60,485.98 67.80,485.98" fill="#f791ca"/>
<polygon points="68.20,481.75 65.10,487.18 71.30,487.18" fill="#16c2de"/>
<polygon points="62.60,486.55 59.50,491.98 65.70,491.98" fill="#f791ca"/>
<polygon points="65.90,487.35 62.80,492.78 69.00,492.78" fill="#e0a2da"/>
<polygon points="70.90,493.35 67.80,498.78 74.00,498.78" fill="#e0a2da"/>
<polygon points="75.00,496.75 71.90,502.18 78.10,502.18" fill="#f791ca"/>
<polygon points="74.40,506.45 71.30,511.88 77.50,511.88" fill="#e0a2da"/>
<polygon points="81.60,504.65 78.50,510.08 84.70,510.08" fill="#f791ca"/>
<polygon points="84.80,509.85 81.70,515.28 87.90,515.28" fill="#e0a2da"/>
<polygon points="88.10,507.35 85.00,512.78 91.20,512.78" fill="#f791ca"/>
<circle cx="194.8" cy="404.8" r="2.35" fill="#e3b055"/>
<circle cx="190.0" cy="423.6" r="2.35" fill="#f79a96"/>
<circle cx="193.9" cy="426.5" r="2.35" fill="#e3b055"/>
<circle cx="204.0" cy="444.1" r="2.35" fill="#84bd52"/>
<circle cx="172.2" cy="446.5" r="2.35" fill="#84bd52"/>
<circle cx="175.3" cy="450.6" r="2.35" fill="#e3b055"/>
<circle cx="190.7" cy="447.5" r="2.35" fill="#f79a96"/>
<circle cx="175.5" cy="456.7" r="2.35" fill="#f79a96"/>
<circle cx="200.6" cy="457.1" r="2.35" fill="#84bd52"/>
<circle cx="111.2" cy="457.9" r="2.35" fill="#e0a2da"/>
<circle cx="185.0" cy="466.8" r="2.35" fill="#f79a96"/>
<circle cx="191.5" cy="483.7" r="2.35" fill="#f79a96"/>
<circle cx="197.0" cy="486.1" r="2.35" fill="#84bd52"/>
<circle cx="169.8" cy="487.5" r="2.35" fill="#84bd52"/>
<circle cx="140.3" cy="500.1" r="2.35" fill="#e3b055"/>
<circle cx="150.5" cy="514.5" r="2.35" fill="#e3b055"/>
<circle cx="150.5" cy="519.8" r="2.35" fill="#e3b055"/>
<circle cx="140.8" cy="517.7" r="2.35" fill="#f79a96"/>
<path d="M36.6 400V525.4H211.9" fill="none" stroke="#333333" stroke-width="1.1"/>
<path d="M35.300000000000004 416.1H36.6" stroke="#333333" stroke-width="0.8"/>
<text x="36.5" y="417.4" text-anchor="end">0.2</text>
<path d="M35.300000000000004 441.5H36.6" stroke="#333333" stroke-width="0.8"/>
<text x="36.5" y="442.8" text-anchor="end">0.1</text>
<path d="M35.300000000000004 467.1H36.6" stroke="#333333" stroke-width="0.8"/>
<text x="36.5" y="468.4" text-anchor="end">0.0</text>
<path d="M35.300000000000004 492.1H36.6" stroke="#333333" stroke-width="0.8"/>
<text x="36.5" y="493.4" text-anchor="end">&#8722;0.1</text>
<path d="M35.300000000000004 517.4H36.6" stroke="#333333" stroke-width="0.8"/>
<text x="36.5" y="518.7" text-anchor="end">&#8722;0.2</text>
<path d="M43.9 525.4V526.8" stroke="#333333" stroke-width="0.9"/>
<text x="48.0" y="533.8" text-anchor="middle">&#8722;0.1</text>
<path d="M81.3 525.4V526.8" stroke="#333333" stroke-width="0.9"/>
<text x="84.5" y="533.8" text-anchor="middle">0.0</text>
<path d="M119.2 525.4V526.8" stroke="#333333" stroke-width="0.9"/>
<text x="122.2" y="533.8" text-anchor="middle">0.1</text>
<path d="M157.5 525.4V526.8" stroke="#333333" stroke-width="0.9"/>
<text x="161.0" y="533.8" text-anchor="middle">0.2</text>
<path d="M196.1 525.4V526.8" stroke="#333333" stroke-width="0.9"/>
<text x="199.5" y="533.8" text-anchor="middle">0.3</text>
<text x="141.9" y="541.7" text-anchor="middle">PCoA 1 (11.73%)</text>
<text transform="translate(14.2 445.8) rotate(-90)" text-anchor="middle">PCoA 2 (5.316%)</text>
<text x="212.7" y="409.8">Group</text>
<circle cx="217.5" cy="415.9" r="2.15" fill="#555"/>
<text x="224.0" y="417.7">MC</text>
<polygon points="217.50,421.95 214.50,427.20 220.50,427.20" fill="#555"/>
<text x="224.0" y="426.7">PC</text>
<text x="212.7" y="444.6">day</text>
<circle cx="217.1" cy="450.4" r="2.6" fill="#f8aeab"/>
<text x="224.0" y="452.1">0d</text>
<circle cx="217.1" cy="459.4" r="2.6" fill="#e8bf77"/>
<text x="224.0" y="461.1">3d</text>
<circle cx="217.1" cy="468.3" r="2.6" fill="#9cca74"/>
<text x="224.0" y="470.0">5d</text>
<circle cx="217.1" cy="477.3" r="2.6" fill="#44ca9e"/>
<text x="224.0" y="479.0">7d</text>
<circle cx="217.1" cy="486.3" r="2.6" fill="#44cee4"/>
<text x="224.0" y="488.0">15d</text>
<circle cx="217.1" cy="495.2" r="2.6" fill="#44c4f3"/>
<text x="224.0" y="497.0">21d</text>
<circle cx="217.1" cy="504.2" r="2.6" fill="#e6b4e1"/>
<text x="224.0" y="505.9">30d</text>
<circle cx="217.1" cy="513.2" r="2.6" fill="#f8a7d4"/>
<text x="224.0" y="514.9">60d</text>
<text class="s" x="229.7" y="364.1">(F)</text>
<text x="265.8" y="394.2">unweighted_unifrac PCoA</text>
<circle cx="290.5" cy="447.2" r="2.35" fill="#16bd86"/>
<circle cx="293.3" cy="448.9" r="2.35" fill="#16c2de"/>
<circle cx="297.7" cy="453.1" r="2.35" fill="#16bd86"/>
<circle cx="301.5" cy="452.7" r="2.35" fill="#16c2de"/>
<circle cx="302.8" cy="456.0" r="2.35" fill="#16bd86"/>
<circle cx="299.5" cy="456.7" r="2.35" fill="#16bd86"/>
<circle cx="274.1" cy="457.7" r="2.35" fill="#f791ca"/>
<circle cx="280.0" cy="455.6" r="2.35" fill="#e0a2da"/>
<circle cx="282.4" cy="457.5" r="2.35" fill="#e0a2da"/>
<circle cx="286.6" cy="458.1" r="2.35" fill="#16c2de"/>
<circle cx="294.3" cy="459.2" r="2.35" fill="#16c2de"/>
<circle cx="297.7" cy="460.4" r="2.35" fill="#84bd52"/>
<circle cx="278.1" cy="461.8" r="2.35" fill="#16c2de"/>
<circle cx="280.4" cy="463.0" r="2.35" fill="#f791ca"/>
<circle cx="285.3" cy="463.0" r="2.35" fill="#f791ca"/>
<circle cx="291.9" cy="463.0" r="2.35" fill="#16bd86"/>
<circle cx="297.7" cy="463.9" r="2.35" fill="#16c2de"/>
<circle cx="318.0" cy="464.9" r="2.35" fill="#16b6f0"/>
<circle cx="279.8" cy="465.3" r="2.35" fill="#16c2de"/>
<circle cx="277.8" cy="468.3" r="2.35" fill="#e0a2da"/>
<circle cx="277.8" cy="470.6" r="2.35" fill="#f791ca"/>
<circle cx="281.6" cy="469.8" r="2.35" fill="#e0a2da"/>
<circle cx="283.9" cy="470.6" r="2.35" fill="#f791ca"/>
<circle cx="287.6" cy="469.6" r="2.35" fill="#e0a2da"/>
<circle cx="285.8" cy="471.6" r="2.35" fill="#f791ca"/>
<circle cx="303.3" cy="473.0" r="2.35" fill="#f791ca"/>
<polygon points="280.10,470.75 277.00,476.18 283.20,476.18" fill="#e3b055"/>
<polygon points="286.00,473.65 282.90,479.08 289.10,479.08" fill="#84bd52"/>
<polygon points="273.60,478.85 270.50,484.28 276.70,484.28" fill="#e3b055"/>
<polygon points="279.80,476.25 276.70,481.68 282.90,481.68" fill="#16b6f0"/>
<polygon points="283.80,477.05 280.70,482.48 286.90,482.48" fill="#16bd86"/>
<polygon points="286.40,477.45 283.30,482.88 289.50,482.88" fill="#16b6f0"/>
<polygon points="292.60,478.65 289.50,484.08 295.70,484.08" fill="#16c2de"/>
<polygon points="288.60,482.35 285.50,487.78 291.70,487.78" fill="#f791ca"/>
<polygon points="283.00,483.05 279.90,488.48 286.10,488.48" fill="#16c2de"/>
<polygon points="286.20,482.45 283.10,487.88 289.30,487.88" fill="#84bd52"/>
<polygon points="278.40,486.55 275.30,491.98 281.50,491.98" fill="#16bd86"/>
<polygon points="292.40,484.55 289.30,489.98 295.50,489.98" fill="#f791ca"/>
<polygon points="295.50,484.75 292.40,490.18 298.60,490.18" fill="#f791ca"/>
<polygon points="285.20,488.05 282.10,493.48 288.30,493.48" fill="#16bd86"/>
<polygon points="281.50,490.65 278.40,496.08 284.60,496.08" fill="#16c2de"/>
<polygon points="296.10,489.65 293.00,495.08 299.20,495.08" fill="#e0a2da"/>
<polygon points="301.80,489.75 298.70,495.18 304.90,495.18" fill="#e0a2da"/>
<polygon points="305.40,489.95 302.30,495.38 308.50,495.38" fill="#f791ca"/>
<polygon points="286.70,492.75 283.60,498.18 289.80,498.18" fill="#16bd86"/>
<polygon points="291.40,492.45 288.30,497.88 294.50,497.88" fill="#16b6f0"/>
<polygon points="293.50,494.65 290.40,500.08 296.60,500.08" fill="#e0a2da"/>
<polygon points="290.70,495.85 287.60,501.28 293.80,501.28" fill="#16b6f0"/>
<polygon points="285.20,496.85 282.10,502.28 288.30,502.28" fill="#16c2de"/>
<polygon points="292.40,502.05 289.30,507.48 295.50,507.48" fill="#84bd52"/>
<polygon points="298.60,501.55 295.50,506.98 301.70,506.98" fill="#16b6f0"/>
<polygon points="313.00,505.15 309.90,510.58 316.10,510.58" fill="#f791ca"/>
<polygon points="297.70,508.95 294.60,514.38 300.80,514.38" fill="#16bd86"/>
<polygon points="305.40,510.05 302.30,515.48 308.50,515.48" fill="#e0a2da"/>
<polygon points="315.50,517.85 312.40,523.28 318.60,523.28" fill="#e0a2da"/>
<polygon points="319.30,516.85 316.20,522.28 322.40,522.28" fill="#f791ca"/>
<circle cx="374.1" cy="401.0" r="2.35" fill="#e3b055"/>
<circle cx="374.9" cy="403.0" r="2.35" fill="#f79a96"/>
<circle cx="384.9" cy="412.2" r="2.35" fill="#e3b055"/>
<circle cx="410.5" cy="440.9" r="2.35" fill="#e3b055"/>
<circle cx="343.7" cy="450.4" r="2.35" fill="#e0a2da"/>
<circle cx="407.3" cy="478.3" r="2.35" fill="#84bd52"/>
<circle cx="411.0" cy="484.0" r="2.35" fill="#f79a96"/>
<circle cx="404.8" cy="488.8" r="2.35" fill="#84bd52"/>
<circle cx="428.0" cy="485.0" r="2.35" fill="#f79a96"/>
<circle cx="426.0" cy="489.5" r="2.35" fill="#f79a96"/>
<circle cx="431.0" cy="487.8" r="2.35" fill="#e3b055"/>
<circle cx="430.2" cy="497.5" r="2.35" fill="#e3b055"/>
<circle cx="426.8" cy="502.0" r="2.35" fill="#f79a96"/>
<circle cx="421.0" cy="507.0" r="2.35" fill="#f79a96"/>
<circle cx="433.0" cy="502.0" r="2.35" fill="#84bd52"/>
<circle cx="437.2" cy="500.0" r="2.35" fill="#84bd52"/>
<circle cx="441.0" cy="503.2" r="2.35" fill="#84bd52"/>
<path d="M265.65 395.8V527.4H448.9" fill="none" stroke="#333333" stroke-width="1.1"/>
<path d="M264.34999999999997 408.5H265.65" stroke="#333333" stroke-width="0.8"/>
<text x="265.5" y="409.8" text-anchor="end">0.2</text>
<path d="M264.34999999999997 443.5H265.65" stroke="#333333" stroke-width="0.8"/>
<text x="265.5" y="444.8" text-anchor="end">0.1</text>
<path d="M264.34999999999997 477.2H265.65" stroke="#333333" stroke-width="0.8"/>
<text x="265.5" y="478.5" text-anchor="end">0.0</text>
<path d="M264.34999999999997 512.1H265.65" stroke="#333333" stroke-width="0.8"/>
<text x="265.5" y="513.4" text-anchor="end">&#8722;0.1</text>
<path d="M272.9 527.4V528.8" stroke="#333333" stroke-width="0.9"/>
<text x="276.9" y="535.8" text-anchor="middle">&#8722;0.1</text>
<path d="M312.4 527.4V528.8" stroke="#333333" stroke-width="0.9"/>
<text x="315.6" y="535.8" text-anchor="middle">0.0</text>
<path d="M352.9 527.4V528.8" stroke="#333333" stroke-width="0.9"/>
<text x="355.6" y="535.8" text-anchor="middle">0.1</text>
<path d="M392.6 527.4V528.8" stroke="#333333" stroke-width="0.9"/>
<text x="395.5" y="535.8" text-anchor="middle">0.2</text>
<path d="M432.7 527.4V528.8" stroke="#333333" stroke-width="0.9"/>
<text x="435.6" y="535.8" text-anchor="middle">0.3</text>
<text x="373.1" y="544" text-anchor="middle">PCoA 1 (11.73%)</text>
<text transform="translate(246.5 446.5) rotate(-90)" text-anchor="middle">PCoA 3 (3.44%)</text>
<text x="452.2" y="406.9">Group</text>
<circle cx="457.2" cy="413.8" r="2.15" fill="#555"/>
<text x="463.7" y="415.6">MC</text>
<polygon points="457.20,419.65 454.20,424.90 460.20,424.90" fill="#555"/>
<text x="463.7" y="424.4">PC</text>
<text x="452.2" y="442.3">day</text>
<circle cx="456.8" cy="449.8" r="2.6" fill="#f8aeab"/>
<text x="463.7" y="451.5">0d</text>
<circle cx="456.8" cy="459.1" r="2.6" fill="#e8bf77"/>
<text x="463.7" y="460.9">3d</text>
<circle cx="456.8" cy="468.6" r="2.6" fill="#9cca74"/>
<text x="463.7" y="470.3">5d</text>
<circle cx="456.8" cy="477.9" r="2.6" fill="#44ca9e"/>
<text x="463.7" y="479.7">7d</text>
<circle cx="456.8" cy="487.4" r="2.6" fill="#44cee4"/>
<text x="463.7" y="489.1">15d</text>
<circle cx="456.8" cy="496.8" r="2.6" fill="#44c4f3"/>
<text x="463.7" y="498.5">21d</text>
<circle cx="456.8" cy="506.1" r="2.6" fill="#e6b4e1"/>
<text x="463.7" y="507.9">30d</text>
<circle cx="456.8" cy="515.5" r="2.6" fill="#f8a7d4"/>
<text x="463.7" y="517.2">60d</text>
</svg></body></html>
